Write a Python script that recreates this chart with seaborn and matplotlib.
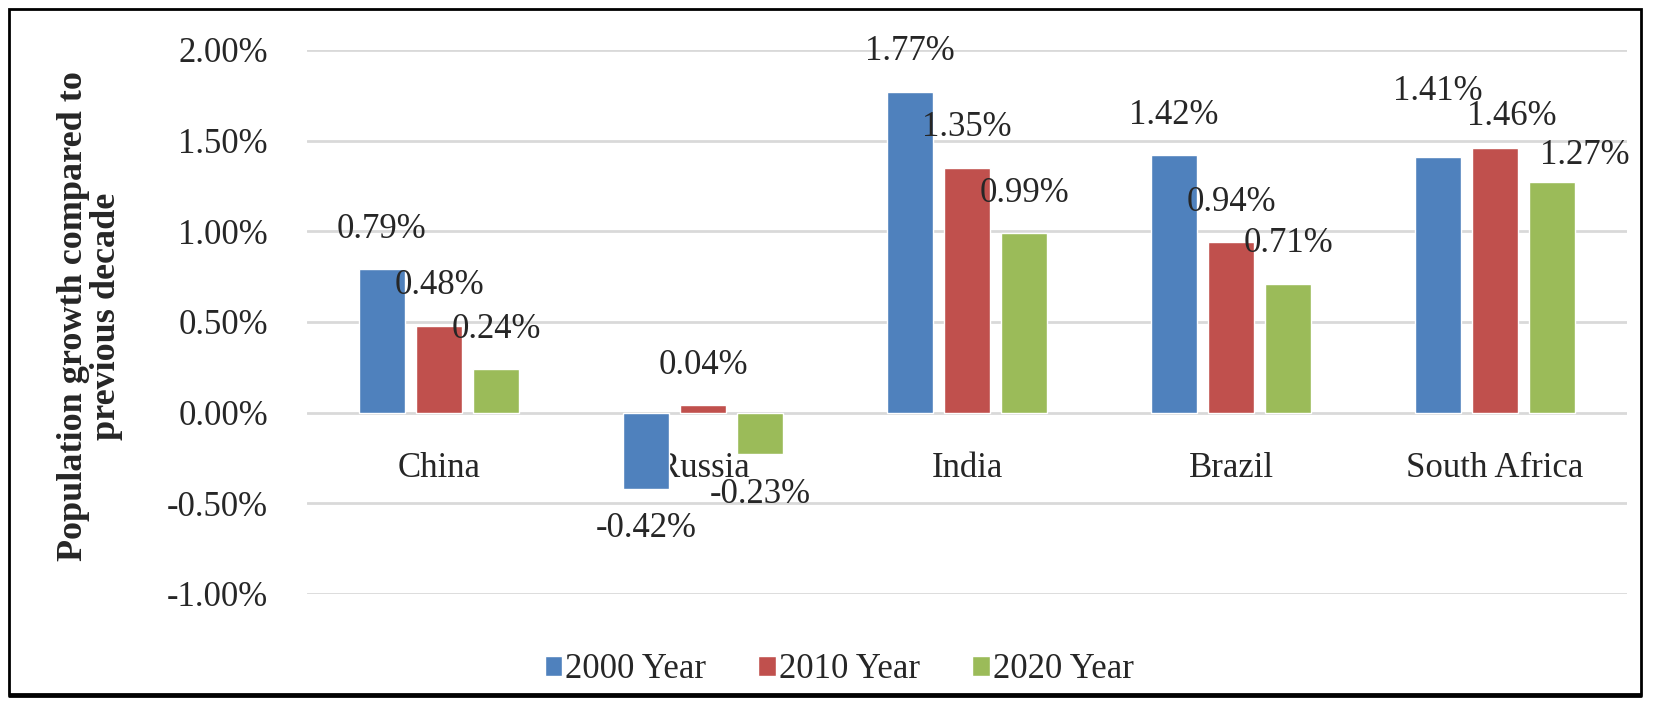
import seaborn as sns
import matplotlib.pyplot as plt
import pandas as pd
from matplotlib.patches import Rectangle

plt.switch_backend('agg')

countries = ['China', 'Russia', 'India', 'Brazil', 'South Africa']
years = ['2000 Year', '2010 Year', '2020 Year']
growth_2000 = [0.79, -0.42, 1.77, 1.42, 1.41]
growth_2010 = [0.48, 0.04, 1.35, 0.94, 1.46]
growth_2020 = [0.24, -0.23, 0.99, 0.71, 1.27]
colors = ['#4F81BD', '#C0504D', '#9BBB59']
yticks = [-1.0, -0.5, 0.0, 0.5, 1.0, 1.5, 2.0]

df = pd.DataFrame({
    'country': countries * 3,
    'year': [y for y in years for _ in countries],
    'growth': growth_2000 + growth_2010 + growth_2020,
})

sns.set_style('white')
plt.rcParams['font.family'] = ['Liberation Serif', 'DejaVu Serif']
fs = 25

fig = plt.figure(figsize=(16.62, 7.12), dpi=100)
ax = fig.add_axes([307 / 1662, 1 - 594 / 712, 1320 / 1662, 544 / 712])

sns.barplot(data=df, x='country', y='growth', hue='year', palette=colors,
            saturation=1, width=0.65, gap=0.2, ax=ax)

ax.set_ylim(-1.0, 2.0)
ax.set_xlim(-0.5, 4.5)
ax.set_yticks(yticks)
ax.set_yticklabels([f'{v:.2f}%' for v in yticks], fontsize=fs)
ax.yaxis.grid(True, color='#D9D9D9', linewidth=2)
ax.set_axisbelow(True)
for s in ax.spines.values():
    s.set_visible(False)
ax.spines['bottom'].set_position(('data', 0))
ax.tick_params(axis='y', length=0, pad=28)
ax.tick_params(axis='x', length=0, pad=28, labelsize=fs)
ax.set_xlabel('')
ax.set_ylabel('')

# data labels; a few are shifted like in the original
nudge = {(4, 0): (0, 25), (4, 1): (17, -9), (4, 2): (33, -13)}
for j, cont in enumerate(ax.containers):
    for i, bar in enumerate(cont):
        h = bar.get_height()
        xc = bar.get_x() + bar.get_width() / 2
        dx, dy = nudge.get((i, j), (0, 0))
        off = 40 if h >= 0 else -40
        ax.annotate(f'{h:.2f}%', xy=(xc, h), xytext=(dx, off + dy),
                    textcoords='offset pixels', ha='center', va='center',
                    fontsize=fs, annotation_clip=False)

handles, labels = ax.get_legend_handles_labels()
ax.get_legend().remove()
fig.legend(handles, labels, loc='center', bbox_to_anchor=(0.505, 1 - 670 / 712),
           ncol=3, frameon=False, fontsize=fs, handlelength=0.5, handleheight=0.5,
           handletextpad=0.1, columnspacing=1.5)

fig.text(90 / 1662, 1 - 316 / 712, 'Population growth compared to\nprevious decade',
         rotation=90, ha='center', va='center', multialignment='center',
         fontsize=26, fontweight='bold', linespacing=1.0)

fig.patches.append(Rectangle((8.5 / 1662, 1 - 694 / 712), 1632 / 1662, 685 / 712,
                             transform=fig.transFigure, fill=False,
                             edgecolor='black', linewidth=2))
fig.add_artist(plt.Line2D([8.5 / 1662, 1641 / 1662], [1 - 696 / 712, 1 - 696 / 712],
                          transform=fig.transFigure, color='black', linewidth=2))

fig.savefig('out.png', dpi=100)
